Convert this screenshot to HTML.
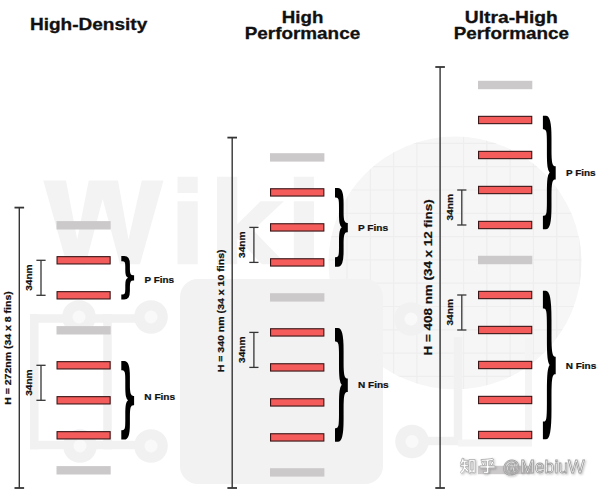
<!DOCTYPE html>
<html><head><meta charset="utf-8"><style>
html,body{margin:0;padding:0;background:#fff;width:600px;height:492px;overflow:hidden}
svg{display:block}
</style></head><body>
<svg width="600" height="492" viewBox="0 0 600 492">
<defs>
<clipPath id="wc"><circle cx="455" cy="263" r="126.5"/></clipPath>
<filter id="sh" x="-20%" y="-20%" width="140%" height="140%"><feDropShadow dx="1" dy="1" stdDeviation="0.8" flood-color="#000" flood-opacity="0.25"/></filter>
</defs>
<rect width="600" height="492" fill="#fff"/>
<path d="M2431 1120H2789V0H2431ZM2431 1556H2789V1264H2431ZM3133 1556H3491V709L3903 1120H4319L3772 606L4362 0H3928L3491 467V0H3133ZM4495 1120H4853V0H4495ZM4495 1556H4853V1264H4495Z" transform="matrix(0.05633 0 0 -0.05633 40.6 264.3)" fill="#f3f3f3"/>
<path d="M43.3 180.4 H66 L77.2 239.5 L88.75 180.4 H118 L128.5 239.5 L141.8 180.4 H163.5 L140 264.3 H120 L102.7 199 L85.5 264.3 H66.8 Z" fill="#f3f3f3"/>
<circle cx="455" cy="263" r="126.5" fill="#f6f6f6"/>
<g stroke="#eeeeee" stroke-width="1.2" clip-path="url(#wc)">
<line x1="323.7" y1="130" x2="323.7" y2="400"/>
<line x1="347.0" y1="130" x2="347.0" y2="400"/>
<line x1="370.3" y1="130" x2="370.3" y2="400"/>
<line x1="393.6" y1="130" x2="393.6" y2="400"/>
<line x1="416.9" y1="130" x2="416.9" y2="400"/>
<line x1="440.2" y1="130" x2="440.2" y2="400"/>
<line x1="463.5" y1="130" x2="463.5" y2="400"/>
<line x1="486.8" y1="130" x2="486.8" y2="400"/>
<line x1="510.1" y1="130" x2="510.1" y2="400"/>
<line x1="533.4" y1="130" x2="533.4" y2="400"/>
<line x1="556.7" y1="130" x2="556.7" y2="400"/>
<line x1="580.0" y1="130" x2="580.0" y2="400"/>
<line x1="320" y1="120.1" x2="590" y2="120.1"/>
<line x1="320" y1="143.4" x2="590" y2="143.4"/>
<line x1="320" y1="166.7" x2="590" y2="166.7"/>
<line x1="320" y1="190.0" x2="590" y2="190.0"/>
<line x1="320" y1="213.3" x2="590" y2="213.3"/>
<line x1="320" y1="236.6" x2="590" y2="236.6"/>
<line x1="320" y1="259.9" x2="590" y2="259.9"/>
<line x1="320" y1="283.2" x2="590" y2="283.2"/>
<line x1="320" y1="306.5" x2="590" y2="306.5"/>
<line x1="320" y1="329.8" x2="590" y2="329.8"/>
<line x1="320" y1="353.1" x2="590" y2="353.1"/>
<line x1="320" y1="376.4" x2="590" y2="376.4"/>
<line x1="320" y1="399.7" x2="590" y2="399.7"/>
</g>
<rect x="180" y="279" width="203" height="205" rx="18" fill="#f2f2f2"/>
<g fill="none" stroke="#f1f1f1" stroke-width="8.5">
<path d="M34.3 314 V449.5 M30 318.5 H151 M30 445 H151 M107.5 314 V449.5"/>
<path d="M458 337 V445 M412 441 H462"/>
<path d="M528.5 338 V443 H458" stroke="#f4f4f4" stroke-width="7"/>
</g>
<g fill="#f1f1f1"><circle cx="79" cy="317" r="16.8"/><circle cx="151" cy="317" r="16.8"/><circle cx="80" cy="446" r="16.8"/><circle cx="151" cy="446" r="16.8"/><circle cx="412" cy="441.5" r="16.8"/><circle cx="411" cy="319" r="16.8"/></g>
<g fill="#f9f9f9"><circle cx="79" cy="317" r="6.5"/><circle cx="151" cy="317" r="6.5"/><circle cx="80" cy="446" r="6.5"/><circle cx="151" cy="446" r="6.5"/><circle cx="412" cy="441.5" r="6.5"/><circle cx="411" cy="319" r="6.5"/></g>
<g style="font-family:'Liberation Sans',sans-serif;font-weight:bold">
<text x="29.93" y="29.60" font-size="16.86" textLength="117.38" lengthAdjust="spacingAndGlyphs" fill="#111" stroke="#111" stroke-width="0.3">High-Density</text>
<text x="281.75" y="23.20" font-size="16.86" textLength="41.61" lengthAdjust="spacingAndGlyphs" fill="#111" stroke="#111" stroke-width="0.3">High</text>
<text x="244.74" y="39.20" font-size="16.86" textLength="115.41" lengthAdjust="spacingAndGlyphs" fill="#111" stroke="#111" stroke-width="0.3">Performance</text>
<text x="464.84" y="23.20" font-size="16.86" textLength="93.05" lengthAdjust="spacingAndGlyphs" fill="#111" stroke="#111" stroke-width="0.3">Ultra-High</text>
<text x="453.74" y="39.20" font-size="16.86" textLength="115.20" lengthAdjust="spacingAndGlyphs" fill="#111" stroke="#111" stroke-width="0.3">Performance</text>
<g stroke="#353535">
<line x1="19.3" y1="207.6" x2="19.3" y2="488.0" stroke-width="1.4"/>
<line x1="14.5" y1="207.6" x2="24.1" y2="207.6" stroke-width="1.8"/>
<line x1="14.5" y1="488.0" x2="24.1" y2="488.0" stroke-width="1.8"/>
</g>
<text transform="translate(11.00 404.80) rotate(-90)" font-size="9.01" textLength="113.53" lengthAdjust="spacingAndGlyphs" fill="#111" stroke="#111" stroke-width="0.22">H = 272nm (34 x 8 fins)</text>
<rect x="56.5" y="221.10" width="54.2" height="8.4" fill="#ccc9ca"/>
<rect x="57.05" y="256.65" width="53.1" height="7.300000000000001" fill="#f45b5b" stroke="#3a1616" stroke-width="1.1"/>
<rect x="57.05" y="291.65" width="53.1" height="7.300000000000001" fill="#f45b5b" stroke="#3a1616" stroke-width="1.1"/>
<rect x="56.5" y="326.10" width="54.2" height="8.4" fill="#ccc9ca"/>
<rect x="57.05" y="361.65" width="53.1" height="7.300000000000001" fill="#f45b5b" stroke="#3a1616" stroke-width="1.1"/>
<rect x="57.05" y="396.65" width="53.1" height="7.300000000000001" fill="#f45b5b" stroke="#3a1616" stroke-width="1.1"/>
<rect x="57.05" y="431.65" width="53.1" height="7.300000000000001" fill="#f45b5b" stroke="#3a1616" stroke-width="1.1"/>
<rect x="56.5" y="466.10" width="54.2" height="8.4" fill="#ccc9ca"/>
<g stroke="#353535" stroke-width="1.3">
<line x1="41.0" y1="260.3" x2="41.0" y2="295.3"/>
<line x1="36.4" y1="260.3" x2="45.6" y2="260.3"/>
<line x1="36.4" y1="295.3" x2="45.6" y2="295.3"/>
</g>
<text transform="translate(31.70 290.83) rotate(-90)" font-size="9.16" textLength="26.46" lengthAdjust="spacingAndGlyphs" fill="#111" stroke="#111" stroke-width="0.22">34nm</text>
<g stroke="#353535" stroke-width="1.3">
<line x1="41.0" y1="365.3" x2="41.0" y2="400.3"/>
<line x1="36.4" y1="365.3" x2="45.6" y2="365.3"/>
<line x1="36.4" y1="400.3" x2="45.6" y2="400.3"/>
</g>
<text transform="translate(31.70 395.83) rotate(-90)" font-size="9.16" textLength="26.46" lengthAdjust="spacingAndGlyphs" fill="#111" stroke="#111" stroke-width="0.22">34nm</text>
<g fill="#000">
<path d="M256 -109H326Q466 -109 508.5 -65.5Q551 -22 551 121V287Q551 443 596.0 514.0Q641 585 752 612Q641 637 596.0 708.0Q551 779 551 936V1102Q551 1244 508.5 1287.5Q466 1331 326 1331H256V1556H473Q691 1556 791.0 1468.5Q891 1381 891 1188V983Q891 833 945.0 775.0Q999 717 1141 717H1202V494H1141Q999 494 945.0 435.5Q891 377 891 227V35Q891 -158 791.0 -246.0Q691 -334 473 -334H256Z" transform="matrix(0.01353 0 0 -0.02307 117.836 291.895)"/>
<path d="M256 -109H326Q466 -109 508.5 -65.5Q551 -22 551 121V287Q551 443 596.0 514.0Q641 585 752 612Q641 637 596.0 708.0Q551 779 551 936V1102Q551 1244 508.5 1287.5Q466 1331 326 1331H256V1556H473Q691 1556 791.0 1468.5Q891 1381 891 1188V983Q891 833 945.0 775.0Q999 717 1141 717H1202V494H1141Q999 494 945.0 435.5Q891 377 891 227V35Q891 -158 791.0 -246.0Q691 -334 473 -334H256Z" transform="matrix(0.01353 0 0 -0.04159 117.836 425.710)"/>
</g>
<text x="144.64" y="283.30" font-size="9.01" textLength="29.46" lengthAdjust="spacingAndGlyphs" fill="#111" stroke="#111" stroke-width="0.22">P Fins</text>
<text x="144.33" y="400.00" font-size="9.01" textLength="30.79" lengthAdjust="spacingAndGlyphs" fill="#111" stroke="#111" stroke-width="0.22">N Fins</text>
<g stroke="#353535">
<line x1="232.2" y1="137.6" x2="232.2" y2="488.0" stroke-width="1.4"/>
<line x1="227.39999999999998" y1="137.6" x2="237.0" y2="137.6" stroke-width="1.8"/>
<line x1="227.39999999999998" y1="488.0" x2="237.0" y2="488.0" stroke-width="1.8"/>
</g>
<text transform="translate(224.40 372.31) rotate(-90)" font-size="9.01" textLength="122.83" lengthAdjust="spacingAndGlyphs" fill="#111" stroke="#111" stroke-width="0.22">H = 340 nm (34 x 10 fins)</text>
<rect x="270.0" y="153.20" width="54.4" height="8.4" fill="#ccc9ca"/>
<rect x="270.55" y="188.75" width="53.3" height="7.300000000000001" fill="#f45b5b" stroke="#3a1616" stroke-width="1.1"/>
<rect x="270.55" y="223.75" width="53.3" height="7.300000000000001" fill="#f45b5b" stroke="#3a1616" stroke-width="1.1"/>
<rect x="270.55" y="258.75" width="53.3" height="7.300000000000001" fill="#f45b5b" stroke="#3a1616" stroke-width="1.1"/>
<rect x="270.0" y="293.20" width="54.4" height="8.4" fill="#ccc9ca"/>
<rect x="270.55" y="328.75" width="53.3" height="7.300000000000001" fill="#f45b5b" stroke="#3a1616" stroke-width="1.1"/>
<rect x="270.55" y="363.75" width="53.3" height="7.300000000000001" fill="#f45b5b" stroke="#3a1616" stroke-width="1.1"/>
<rect x="270.55" y="398.75" width="53.3" height="7.300000000000001" fill="#f45b5b" stroke="#3a1616" stroke-width="1.1"/>
<rect x="270.55" y="433.75" width="53.3" height="7.300000000000001" fill="#f45b5b" stroke="#3a1616" stroke-width="1.1"/>
<rect x="270.0" y="468.20" width="54.4" height="8.4" fill="#ccc9ca"/>
<g stroke="#353535" stroke-width="1.3">
<line x1="253.89999999999998" y1="227.4" x2="253.89999999999998" y2="262.4"/>
<line x1="249.29999999999998" y1="227.4" x2="258.5" y2="227.4"/>
<line x1="249.29999999999998" y1="262.4" x2="258.5" y2="262.4"/>
</g>
<text transform="translate(244.60 257.93) rotate(-90)" font-size="9.16" textLength="26.46" lengthAdjust="spacingAndGlyphs" fill="#111" stroke="#111" stroke-width="0.22">34nm</text>
<g stroke="#353535" stroke-width="1.3">
<line x1="253.89999999999998" y1="332.4" x2="253.89999999999998" y2="367.4"/>
<line x1="249.29999999999998" y1="332.4" x2="258.5" y2="332.4"/>
<line x1="249.29999999999998" y1="367.4" x2="258.5" y2="367.4"/>
</g>
<text transform="translate(244.60 362.93) rotate(-90)" font-size="9.16" textLength="26.46" lengthAdjust="spacingAndGlyphs" fill="#111" stroke="#111" stroke-width="0.22">34nm</text>
<g fill="#000">
<path d="M256 -109H326Q466 -109 508.5 -65.5Q551 -22 551 121V287Q551 443 596.0 514.0Q641 585 752 612Q641 637 596.0 708.0Q551 779 551 936V1102Q551 1244 508.5 1287.5Q466 1331 326 1331H256V1556H473Q691 1556 791.0 1468.5Q891 1381 891 1188V983Q891 833 945.0 775.0Q999 717 1141 717H1202V494H1141Q999 494 945.0 435.5Q891 377 891 227V35Q891 -158 791.0 -246.0Q691 -334 473 -334H256Z" transform="matrix(0.01353 0 0 -0.04159 331.536 252.810)"/>
<path d="M256 -109H326Q466 -109 508.5 -65.5Q551 -22 551 121V287Q551 443 596.0 514.0Q641 585 752 612Q641 637 596.0 708.0Q551 779 551 936V1102Q551 1244 508.5 1287.5Q466 1331 326 1331H256V1556H473Q691 1556 791.0 1468.5Q891 1381 891 1188V983Q891 833 945.0 775.0Q999 717 1141 717H1202V494H1141Q999 494 945.0 435.5Q891 377 891 227V35Q891 -158 791.0 -246.0Q691 -334 473 -334H256Z" transform="matrix(0.01353 0 0 -0.06011 331.536 421.625)"/>
</g>
<text x="358.03" y="230.70" font-size="9.01" textLength="30.08" lengthAdjust="spacingAndGlyphs" fill="#111" stroke="#111" stroke-width="0.22">P Fins</text>
<text x="358.03" y="387.70" font-size="9.01" textLength="30.68" lengthAdjust="spacingAndGlyphs" fill="#111" stroke="#111" stroke-width="0.22">N Fins</text>
<g stroke="#353535">
<line x1="440.1" y1="67.0" x2="440.1" y2="488.0" stroke-width="1.4"/>
<line x1="435.3" y1="67.0" x2="444.90000000000003" y2="67.0" stroke-width="1.8"/>
<line x1="435.3" y1="488.0" x2="444.90000000000003" y2="488.0" stroke-width="1.8"/>
</g>
<text transform="translate(431.90 355.40) rotate(-90)" font-size="11.05" textLength="156.06" lengthAdjust="spacingAndGlyphs" fill="#111" stroke="#111" stroke-width="0.22">H = 408 nm (34 x 12 fins)</text>
<rect x="478.0" y="80.80" width="54.3" height="8.4" fill="#ccc9ca"/>
<rect x="478.55" y="116.35" width="53.199999999999996" height="7.300000000000001" fill="#f45b5b" stroke="#3a1616" stroke-width="1.1"/>
<rect x="478.55" y="151.35" width="53.199999999999996" height="7.300000000000001" fill="#f45b5b" stroke="#3a1616" stroke-width="1.1"/>
<rect x="478.55" y="186.35" width="53.199999999999996" height="7.300000000000001" fill="#f45b5b" stroke="#3a1616" stroke-width="1.1"/>
<rect x="478.55" y="221.35" width="53.199999999999996" height="7.300000000000001" fill="#f45b5b" stroke="#3a1616" stroke-width="1.1"/>
<rect x="478.0" y="255.80" width="54.3" height="8.4" fill="#ccc9ca"/>
<rect x="478.55" y="291.35" width="53.199999999999996" height="7.300000000000001" fill="#f45b5b" stroke="#3a1616" stroke-width="1.1"/>
<rect x="478.55" y="326.35" width="53.199999999999996" height="7.300000000000001" fill="#f45b5b" stroke="#3a1616" stroke-width="1.1"/>
<rect x="478.55" y="361.35" width="53.199999999999996" height="7.300000000000001" fill="#f45b5b" stroke="#3a1616" stroke-width="1.1"/>
<rect x="478.55" y="396.35" width="53.199999999999996" height="7.300000000000001" fill="#f45b5b" stroke="#3a1616" stroke-width="1.1"/>
<rect x="478.55" y="431.35" width="53.199999999999996" height="7.300000000000001" fill="#f45b5b" stroke="#3a1616" stroke-width="1.1"/>
<rect x="478.0" y="465.80" width="54.3" height="8.4" fill="#ccc9ca"/>
<g stroke="#353535" stroke-width="1.3">
<line x1="461.8" y1="190.0" x2="461.8" y2="225.0"/>
<line x1="457.2" y1="190.0" x2="466.40000000000003" y2="190.0"/>
<line x1="457.2" y1="225.0" x2="466.40000000000003" y2="225.0"/>
</g>
<text transform="translate(452.50 220.53) rotate(-90)" font-size="9.16" textLength="26.46" lengthAdjust="spacingAndGlyphs" fill="#111" stroke="#111" stroke-width="0.22">34nm</text>
<g stroke="#353535" stroke-width="1.3">
<line x1="461.8" y1="295.0" x2="461.8" y2="330.0"/>
<line x1="457.2" y1="295.0" x2="466.40000000000003" y2="295.0"/>
<line x1="457.2" y1="330.0" x2="466.40000000000003" y2="330.0"/>
</g>
<text transform="translate(452.50 325.53) rotate(-90)" font-size="9.16" textLength="26.46" lengthAdjust="spacingAndGlyphs" fill="#111" stroke="#111" stroke-width="0.22">34nm</text>
<g fill="#000">
<path d="M256 -109H326Q466 -109 508.5 -65.5Q551 -22 551 121V287Q551 443 596.0 514.0Q641 585 752 612Q641 637 596.0 708.0Q551 779 551 936V1102Q551 1244 508.5 1287.5Q466 1331 326 1331H256V1556H473Q691 1556 791.0 1468.5Q891 1381 891 1188V983Q891 833 945.0 775.0Q999 717 1141 717H1202V494H1141Q999 494 945.0 435.5Q891 377 891 227V35Q891 -158 791.0 -246.0Q691 -334 473 -334H256Z" transform="matrix(0.01353 0 0 -0.06011 539.436 209.225)"/>
<path d="M256 -109H326Q466 -109 508.5 -65.5Q551 -22 551 121V287Q551 443 596.0 514.0Q641 585 752 612Q641 637 596.0 708.0Q551 779 551 936V1102Q551 1244 508.5 1287.5Q466 1331 326 1331H256V1556H473Q691 1556 791.0 1468.5Q891 1381 891 1188V983Q891 833 945.0 775.0Q999 717 1141 717H1202V494H1141Q999 494 945.0 435.5Q891 377 891 227V35Q891 -158 791.0 -246.0Q691 -334 473 -334H256Z" transform="matrix(0.01353 0 0 -0.07862 539.436 413.039)"/>
</g>
<text x="566.09" y="176.00" font-size="9.01" textLength="29.56" lengthAdjust="spacingAndGlyphs" fill="#111" stroke="#111" stroke-width="0.22">P Fins</text>
<text x="565.73" y="368.90" font-size="9.01" textLength="30.58" lengthAdjust="spacingAndGlyphs" fill="#111" stroke="#111" stroke-width="0.22">N Fins</text>
</g>
<g fill="#fff" stroke="#a8a8a8" stroke-width="50" filter="url(#sh)">
<path d="M536 763V-61H652V12H798V-46H919V763ZM652 125V651H798V125ZM130 849C110 735 72 619 18 547C45 532 93 498 115 478C140 515 163 561 183 612H223V478V453H37V340H215C198 223 152 98 22 4C47 -14 92 -62 108 -87C205 -16 263 78 298 176C347 115 405 39 437 -13L518 89C491 122 380 248 329 299L336 340H509V453H344V477V612H485V723H220C230 757 238 791 245 826Z" transform="matrix(0.01650 0 0 -0.01650 460.0 472.2)"/>
<path d="M143 603C177 537 214 451 225 397L335 440C321 495 282 578 245 641ZM760 663C740 593 701 499 667 438L767 401C804 456 848 542 889 622ZM46 383V260H446V60C446 39 437 33 414 32C391 32 308 32 235 36C255 2 277 -54 285 -89C387 -89 460 -86 509 -67C558 -48 576 -15 576 59V260H956V383H576V685C686 697 790 713 879 734L819 844C636 801 354 775 104 766C116 737 130 690 133 658C233 660 340 665 446 673V383Z" transform="matrix(0.01650 0 0 -0.01650 479.2 472.2)"/>
</g>
<text x="502.3" y="473" font-size="18.6" textLength="82.4" lengthAdjust="spacingAndGlyphs" fill="#fff" stroke="#a0a0a0" stroke-width="0.9" filter="url(#sh)" style="font-family:'Liberation Sans',sans-serif">@MebiuW</text>
</svg>
</body></html>
